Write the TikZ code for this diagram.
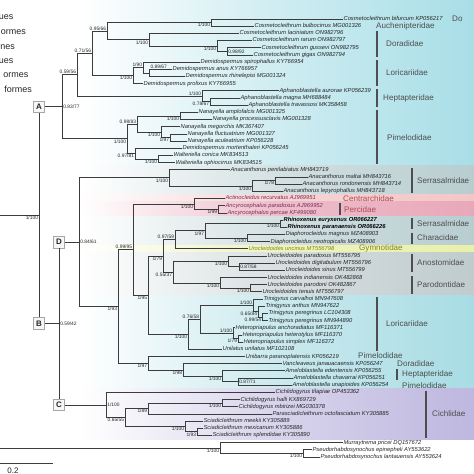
\documentclass[tikz,border=0pt]{standalone}
\usepackage{fontspec}
\setmainfont{Liberation Sans}
\definecolor{treeline}{HTML}{3C3C3C}
\definecolor{txt}{HTML}{252525}
\definecolor{famtxt}{HTML}{4E4E4E}
\definecolor{cA}{HTML}{A8DEE7}
\definecolor{cSer}{HTML}{B7CDD0}
\definecolor{cCen}{HTML}{F3C6C6}
\definecolor{cPer}{HTML}{E8A8BA}
\definecolor{cGym}{HTML}{E9F0A8}
\definecolor{cAno}{HTML}{BFCBCD}
\definecolor{cLor}{HTML}{A8DCE4}
\definecolor{cCic}{HTML}{BEB7DF}
\definecolor{redtxt}{HTML}{B04A55}
\definecolor{gymtxt}{HTML}{86841E}
\definecolor{pertxt}{HTML}{7A2E55}
\newcommand\spfont{\fontsize{5.8}{6.2}\selectfont\itshape}
\newcommand\supfont{\fontsize{4.9}{5.2}\selectfont}
\newcommand\famfont{\fontsize{8.1}{9}\selectfont}
\newcommand\legfont{\fontsize{9}{10}\selectfont}
\begin{document}
\begin{tikzpicture}[x=1bp,y=-1bp,
 br/.style={draw=treeline, line width=0.75bp},
 leaf/.style={anchor=west, inner sep=0.4bp, font=\spfont, text=txt, text height=4.2bp, text depth=1.2bp},
 sup/.style={inner sep=0.3bp, font=\supfont, text=txt},
 supB/.style={sup, anchor=north east, xshift=-0.5bp, yshift=-0.3bp},
 supA/.style={sup, anchor=south east, xshift=-0.5bp, yshift=0.3bp},
 supR/.style={sup, anchor=west, xshift=0.8bp},
 fam/.style={anchor=west, inner sep=0pt, font=\famfont, text=famtxt},
 fbar/.style={draw=famtxt, line width=1.1bp},
 leg/.style={inner sep=0pt, font=\legfont, text=txt},
 cbox/.style={draw=gray!70, fill=gray!6, line width=0.6bp, minimum size=11.5bp, inner sep=0pt, font=\fontsize{8}{8}\selectfont\bfseries, text=txt}]
\useasboundingbox (0,0) rectangle (474,474);
\clip (0,0) rectangle (474,474);
% background bands
\shade[left color=white, right color=cA, middle color=cA!55!white] (80,0) rectangle (474,166);
\shade[left color=white, right color=cSer, middle color=cSer!60!white] (80,166) rectangle (474,195);
\shade[left color=white, right color=cCen, middle color=cCen!75!white] (80,195) rectangle (474,202);
\shade[left color=white, right color=cPer, middle color=cPer!75!white] (80,202) rectangle (474,216.5);
\shade[left color=white, right color=cSer, middle color=cSer!60!white] (80,216.5) rectangle (474,245.2);
\shade[left color=white, right color=cGym, middle color=cGym!75!white] (80,245.2) rectangle (474,252.4);
\shade[left color=white, right color=cAno, middle color=cAno!60!white] (80,252.4) rectangle (474,295.4);
\shade[left color=white, right color=cLor, middle color=cLor!60!white] (80,295.4) rectangle (474,388.8);
\shade[left color=white, right color=cCic, middle color=cCic!60!white] (80,388.8) rectangle (474,439);
% legend fragments
\node[leg, anchor=east] (g1) at (13.5,17) {ues};
\node[leg, anchor=east] (g2) at (26,32) {ormes};
\node[leg, anchor=east] (g3) at (15,47) {nes};
\node[leg, anchor=east] (g4) at (13.5,61) {ues};
\node[leg, anchor=east] (g5) at (28.5,75) {ormes};
\node[leg, anchor=east] (g6) at (32,89) {formes};
% internal node coordinates
\coordinate (n211) at (211,22.6);
\coordinate (n227) at (227,51.3);
\coordinate (n217) at (217,45.9);
\coordinate (n149) at (149,39.7);
\coordinate (n107) at (107,31.1);
\coordinate (n149b) at (149,72.9);
\coordinate (n143) at (143,67.5);
\coordinate (n133) at (133,75.55);
\coordinate (n92) at (92,53.3);
\coordinate (n210) at (210,101.6);
\coordinate (n202) at (202,96.2);
\coordinate (n77) at (77,74.75);
\coordinate (n180) at (180,115.9);
\coordinate (n170) at (170,137.5);
\coordinate (n161) at (161,132.1);
\coordinate (n137) at (137,124);
\coordinate (n158) at (158,159);
\coordinate (n135) at (135,153.6);
\coordinate (n127) at (127,138.8);
\coordinate (n62) at (62,106.8);
\coordinate (n39) at (39,215.15);
\coordinate (r1) at (0,215.15);
\coordinate (n275) at (275,180.55);
\coordinate (n252) at (252,185.9);
\coordinate (n169) at (169,177.85);
\coordinate (n218) at (218,209.3);
\coordinate (n194) at (194,203.9);
\coordinate (n280) at (280,223.6);
\coordinate (n247) at (247,238);
\coordinate (n205) at (205,230.8);
\coordinate (n175) at (175,239.8);
\coordinate (n239) at (239,266.7);
\coordinate (n228) at (228,261.3);
\coordinate (n250) at (250,288.25);
\coordinate (n220) at (220,282.9);
\coordinate (n173) at (173,272.1);
\coordinate (n163) at (163,255.95);
\coordinate (nT3) at (262,317);
\coordinate (nT2) at (258,311.6);
\coordinate (nT1) at (253,305.3);
\coordinate (nH2) at (238,338.5);
\coordinate (nH1) at (233,333.1);
\coordinate (n200) at (200,319.2);
\coordinate (n188) at (188,334.25);
\coordinate (n148) at (148,295.1);
\coordinate (n133d) at (133,249.5);
\coordinate (n238) at (238,381.6);
\coordinate (n222) at (222,376.2);
\coordinate (n183) at (183,369.9);
\coordinate (n148u) at (148,363.2);
\coordinate (n118) at (118,306.35);
\coordinate (n79) at (79,242.1);
\coordinate (n59) at (59,323.5);
\coordinate (n222c) at (222,403.1);
\coordinate (n148c) at (148,408.5);
\coordinate (n197) at (197,431.85);
\coordinate (n185) at (185,426.5);
\coordinate (n125) at (125,417.5);
\coordinate (n106) at (106,404.95);
\coordinate (n303) at (303,453.4);
\coordinate (n220o) at (220,448);
\coordinate (r2) at (0,448);
% clade boxes
\node[cbox] (A) at (39,106.8) {A};
\node[cbox] (B) at (39,323.5) {B};
\node[cbox] (C) at (59,404.95) {C};
\node[cbox] (D) at (59,242.1) {D};
% leaves
\foreach \nm/\xx/\yy/\lbl in {
 L1/343/19.0/Cosmetocleithrum bifurcum KP056217,
 L2/254/26.2/Cosmetocleithrum bulbocirrus MG001326,
 L3/239/33.4/Cosmetocleithrum laciniatum ON982796,
 L4/252/40.5/Cosmetocleithrum rarum ON982797,
 L5/261/47.7/Cosmetocleithrum gussevi ON982795,
 L6/253/54.9/Cosmetocleithrum gigas ON982794,
 L7/200/62.1/Demidospermus spirophallus KY766954,
 L8/172/69.3/Demidospermus anus KY766957,
 L9/185/76.4/Demidospermus rhinelepisi MG001324,
 L10/143/83.6/Demidospermus prolixus KY766955,
 L11/279/90.8/Aphanoblastella aurorae KP056239,
 L12/240/98.0/Aphanoblastella magna MH688484,
 L13/248/105.2/Aphanoblastella travassosi MK358458,
 L14/198/112.3/Nanayella amplofalcis MG001325,
 L15/212/119.5/Nanayella processusclavis MG001328,
 L16/180/126.7/Nanayella megorchis MK367407,
 L17/187/133.9/Nanayella fluctuatrium MG001327,
 L18/187/141.1/Nanayella aculeatrium KP056228,
 L19/182/148.2/Demidospermus mortenthaleri KP056245,
 L20/173/155.4/Walteriella conica MK834513,
 L21/175/162.6/Walteriella ophiocirrus MK834515,
 L22/230/169.8/Anacanthorus penilabiatus MH843719,
 L23/308/177.0/Anacanthorus maltai MH843716,
 L24/302/184.1/Anacanthorus rondonensis MH843714,
 L25/283/191.3/Anacanthorus lepyrophallus MH843718,
 L31/285/234.4/Diaphorocleidus magnus MZ408903,
 L32/270/241.6/Diaphorocleidus neotropicalis MZ408906,
 L34/267/255.9/Urocleidoides paradoxus MT556795,
 L35/275/263.1/Urocleidoides digitabulum MT556796,
 L36/285/270.3/Urocleidoides sinus MT556799,
 L37/267/277.5/Urocleidoides indianensis OK482868,
 L38/267/284.7/Urocleidoides parodoni OK482867,
 L39/262/291.8/Urocleidoides tenuis MT556797,
 L40/263/299.0/Trinigyrus carvalhoi MN947608,
 L41/265/306.2/Trinigyrus anthus MN947622,
 L42/268/313.4/Trinigyrus peregrinus LC104308,
 L43/268/320.6/Trinigyrus peregrinus MN944890,
 L44/235/327.7/Heteropriapulus anchoradiatus MF116371,
 L45/242/334.9/Heteropriapulus heterotylus MF116370,
 L46/243/342.1/Heteropriapulus simplex MF116372,
 L47/222/349.3/Unilatus unilatus MF102108,
 L48/245/356.5/Unibarra paranoplatensis KP056219,
 L49/282/363.6/Vancleaveus janauacaensis KP056247,
 L50/285/370.8/Ameloblastella edentensis KP056255,
 L51/293/378.0/Ameloblastella chavarrai KP056251,
 L52/292/385.2/Ameloblastella unapioides KP056254,
 L53/275/392.4/Cichlidogyrus tilapiae OP453362,
 L54/240/399.5/Cichlidogyrus halli KX869729,
 L55/238/406.7/Cichlidogyrus mbirizei MG030378,
 L56/272/413.9/Parasciadicleithrum octofasciatum KY305885,
 L57/203/421.1/Sciadicleithrum meekii KY305889,
 L58/203/428.3/Sciadicleithrum mexicanum KY305886,
 L59/212/435.4/Sciadicleithrum splendidae KY305890,
 L60/343/442.6/Murraytrema pricei DQ157672,
 L61/312/449.8/Pseudorhabdosynochus epinepheli AY553622,
 L62/320/457.0/Pseudorhabdosynochus lantauensis AY553624}
 \node[leaf] (\nm) at (\xx,\yy) {\lbl};
\node[leaf, text=pertxt] (L26) at (225,198.5) {Actinocleidus recurvatus AJ969951};
\node[leaf, text=pertxt] (L27) at (225,205.7) {Ancyrocephalus paradoxus AJ969952};
\node[leaf, text=pertxt] (L28) at (227,212.9) {Ancyrocephalus percae KF499080};
\node[leaf, font=\spfont\bfseries, text=black] (L29) at (283,220.0) {Rhinoxenus euryxenus OR066227};
\node[leaf, font=\spfont\bfseries, text=black] (L30) at (287,227.2) {Rhinoxenus paranaensis OR066226};
\node[leaf, text=gymtxt] (L33) at (248,248.8) {Urocleidoides uncinus MT556798};
% connectors
\foreach \p/\c in {
 n211/L1.west, n211/L2.west, n227/L5.west, n227/L6.west, n217/L4.west, n217/n227,
 n149/L3.west, n149/n217, n107/n211, n107/n149, n149b/L8.west, n149b/L9.west,
 n143/L7.west, n143/n149b, n133/n143, n133/L10.west, n92/n107, n92/n133,
 n210/L12.west, n210/L13.west, n202/L11.west, n202/n210, n77/n92, n77/n202,
 n180/L14.west, n180/L15.west, n170/L17.west, n170/L18.west, n161/L16.west, n161/n170,
 n137/n180, n137/n161, n158/L20.west, n158/L21.west, n135/L19.west, n135/n158,
 n127/n137, n127/n135, n62/n77, n62/n127,
 n275/L23.west, n275/L24.west, n252/n275, n252/L25.west, n169/L22.west, n169/n252,
 n218/L27.west, n218/L28.west, n194/L26.west, n194/n218,
 n280/L29.west, n280/L30.west, n247/L31.west, n247/L32.west, n205/n280, n205/n247,
 n175/n205, n175/L33.west, n239/L35.west, n239/L36.west, n228/L34.west, n228/n239,
 n250/L38.west, n250/L39.west, n220/L37.west, n220/n250, n173/n228, n173/n220,
 n163/n175, n163/n173, nT3/L42.west, nT3/L43.west, nT2/L41.west, nT2/nT3,
 nT1/L40.west, nT1/nT2, nH2/L45.west, nH2/L46.west, nH1/L44.west, nH1/nH2,
 n200/nT1, n200/nH1, n188/n200, n188/L47.west, n148/n163, n148/n188,
 n133d/n194, n133d/n148, n238/L51.west, n238/L52.west, n222/L50.west, n222/n238,
 n183/L49.west, n183/n222, n148u/L48.west, n148u/n183, n118/n133d, n118/n148u,
 n79/n169, n79/n118,
 n222c/L54.west, n222c/L55.west, n148c/n222c, n148c/L56.west, n197/L58.west, n197/L59.west,
 n185/L57.west, n185/n197, n125/n148c, n125/n185, n106/L53.west, n106/n125,
 n303/L61.west, n303/L62.west, n220o/L60.west, n220o/n303}
 \draw[br] (\p) |- (\c);
\draw[br] (r1) -- (n39);
\draw[br] (n39) -- (A.south);
\draw[br] (n39) -- (B.north);
\draw[br] (A.east) -- (n62);
\draw[br] (B.east) -- (n59);
\draw[br] (n59) -- (D.south);
\draw[br] (n59) -- (C.north);
\draw[br] (D.east) -- (n79);
\draw[br] (C.east) -- (n106);
\draw[br] (r2) -- (n220o);
% support values
\node[supB] (s211) at (n211) {1/100};
\node[supR] (s227) at (n227) {0.98/92};
\node[supB] (s217) at (n217) {1/100};
\node[supB] (s149) at (n149) {1/100};
\node[supA] (s107) at (n107) {0.95/66};
\node[sup, anchor=south west] (s149b) at (150,68.9) {0.89/67};
\node[supA] (s143) at (n143) {1/90};
\node[supB] (s133) at (n133) {1/100};
\node[supA] (s92) at (n92) {0.71/56};
\node[supB] (s210) at (n210) {0.78/67};
\node[supA] (s202) at (n202) {1/100};
\node[supA] (s77) at (n77) {0.59/56};
\node[supB] (s180) at (n180) {1/100};
\node[supB] (s170) at (n170) {1/97};
\node[supB] (s161) at (n161) {1/100};
\node[supA] (s137) at (n137) {0.98/83};
\node[supB] (s158) at (n158) {1/100};
\node[supB] (s135) at (n135) {0.97/81};
\node[supB] (s127) at (n127) {1/100};
\node[supR] (s62) at (n62) {0.83/77};
\node[supB] (s39) at (n39) {1/100};
\node[supB] (s275) at (n275) {1/78};
\node[supB] (s252) at (n252) {1/100};
\node[supB] (s169) at (n169) {1/100};
\node[supB] (s218) at (n218) {1/99};
\node[supB] (s194) at (n194) {1/100};
\node[supB] (s280) at (n280) {1/100};
\node[supB] (s247) at (n247) {1/100};
\node[supB] (s205) at (n205) {1/97};
\node[supA] (s175) at (n175) {0.97/59};
\node[supR] (s239) at (n239) {0.87/58};
\node[supB] (s228) at (n228) {1/100};
\node[supB] (s250) at (n250) {1/100};
\node[supB] (s220) at (n220) {1/100};
\node[supB] (s173) at (n173) {0.55/37};
\node[supB] (s163) at (n163) {1/79};
\node[supB] (sT3) at (nT3) {0.99/54};
\node[supB] (sT2) at (nT2) {0.65/84};
\node[supA] (sT1) at (nT1) {1/100};
\node[supB] (sH2) at (nH2) {1/79};
\node[supA] (sH1) at (nH1) {1/100};
\node[supA] (s200) at (n200) {0.76/58};
\node[supB] (s188) at (n188) {1/100};
\node[supB] (s148) at (n148) {1/95};
\node[supA] (s133d) at (n133d) {0.99/95};
\node[supR] (s238) at (n238) {0.87/71};
\node[supB] (s222) at (n222) {1/100};
\node[supB] (s183) at (n183) {1/98};
\node[supB] (s148u) at (n148u) {1/97};
\node[supB] (s118) at (n118) {1/93};
\node[supR] (s79) at (n79) {0.84/61};
\node[supR] (s59) at (n59) {0.59/42};
\node[supB] (s222c) at (n222c) {1/100};
\node[supB] (s148c) at (n148c) {1/89};
\node[supB] (s197) at (n197) {1/93};
\node[supB] (s185) at (n185) {1/100};
\node[supB] (s125) at (n125) {0.65/55};
\node[supR] (s106) at (n106) {1/100};
\node[supB] (s303) at (n303) {1/100};
\node[supB] (s220o) at (n220o) {1/100};
% family bars
\foreach \nm/\xx/\ya/\yb in {fb1/377/31/57, fb2/377/60/86, fb3/377/89/107, fb4/377/110.5/164.5,
 fb5/412/168.5/193, fb6/340/203.5/215, fb7/412/218/229, fb8/412/232.5/243.5,
 fb9/412/254/272, fb10/412/275.5/294, fb11/377/297/351, fb12/397/369/380, fb13/426/390.5/437.5} {
 \coordinate (\nm a) at (\xx,\ya);
 \coordinate (\nm b) at (\xx,\yb);
 \draw[fbar] (\nm a) -- (\nm b);
}
% family labels
\node[fam] (f0) at (452,19) {Do};
\node[fam] (f1) at (376,26.2) {Auchenipteridae};
\node[fam] (f2) at (386,44) {Doradidae};
\node[fam] (f3) at (386,73) {Loricariidae};
\node[fam] (f4) at (383,98) {Heptapteridae};
\node[fam] (f5) at (387,137.5) {Pimelodidae};
\node[fam] (f6) at (417,180.5) {Serrasalmidae};
\node[fam, text=redtxt] (f7) at (343,198.5) {Centrarchidae};
\node[fam, text=redtxt] (f8) at (344,209.3) {Percidae};
\node[fam] (f9) at (417,223.6) {Serrasalmidae};
\node[fam] (f10) at (417,238) {Characidae};
\node[fam, text=gymtxt] (f11) at (359,248.8) {Gymnotidae};
\node[fam] (f12) at (417,263) {Anostomidae};
\node[fam] (f13) at (417,284.7) {Parodontidae};
\node[fam] (f14) at (386,324) {Loricariidae};
\node[fam] (f15) at (358,355.5) {Pimelodidae};
\node[fam] (f16) at (397,363.3) {Doradidae};
\node[fam] (f17) at (402,374.4) {Heptapteridae};
\node[fam] (f18) at (402,385.2) {Pimelodidae};
\node[fam] (f19) at (432,414) {Cichlidae};
% scale bar
\coordinate (sb1) at (0,463);
\coordinate (sb2) at (53,463);
\draw[br] (sb1) -- (sb2);
\node[leg, font=\fontsize{8}{8}\selectfont] (sbl) at (13,470.5) {0.2};
\end{tikzpicture}
\end{document}
